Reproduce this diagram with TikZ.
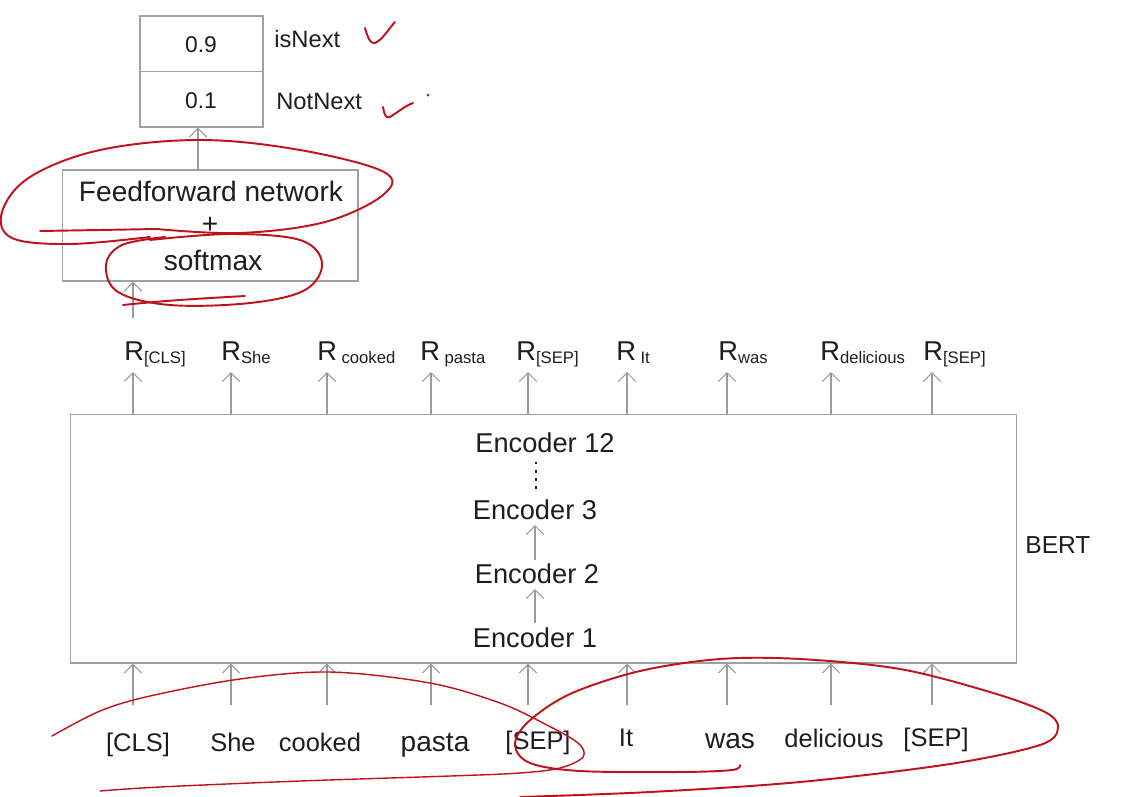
\documentclass[tikz,border=0pt]{standalone}
\usepackage{fontspec}
\setmainfont{Liberation Sans}
\usetikzlibrary{arrows.meta}
\definecolor{boxgray}{RGB}{160,160,160}
\definecolor{arrgray}{RGB}{155,155,155}
\definecolor{textblack}{RGB}{30,30,30}
\definecolor{annred}{RGB}{192,18,24}
\newcommand{\fs}[1]{\fontsize{#1}{#1}\selectfont}
\tikzset{
  box/.style={draw=boxgray, line width=0.6pt, inner sep=0pt},
  arr/.style={draw=arrgray, line width=0.6pt, -{Straight Barb[length=5pt,width=10pt]}},
  ann/.style={draw=annred, line width=1.1pt, line cap=round, line join=round},
  txt/.style={text=textblack, inner sep=0pt, anchor=base},
  rlab/.style={txt, anchor=base west, font=\fs{15.5pt}},
  tok/.style={txt, font=\fs{14.5pt}},
  enc/.style={txt, font=\fs{15.5pt}},
}
\begin{document}
\begin{tikzpicture}[x=0.02cm, y=-0.02cm]
\useasboundingbox (0,0) rectangle (1136,796);
\fill[white] (0,0) rectangle (1136,796);

% output box
\node[box, minimum width=2.46cm, minimum height=2.22cm] (out) at (201.5,71.5) {};
\draw[box] (out.west) -- (out.east);
\node[txt, font=\fs{13pt}] (p9) at (201,52) {0.9};
\node[txt, font=\fs{13pt}] (p1) at (201,108) {0.1};
\node[txt, anchor=base west, font=\fs{13.5pt}] (isn) at (274,47) {isNext};
\node[txt, anchor=base west, font=\fs{13.5pt}] (notn) at (276,109) {NotNext};

% feedforward box
\node[box, minimum width=5.92cm, minimum height=2.22cm] (ff) at (210,225.5) {};
\node[txt, font=\fs{16pt}] (ff1) at (211,201) {Feedforward network};
\node[txt, font=\fs{16pt}] (ff2) at (210,233) {+};
\node[txt, font=\fs{16pt}] (ff3) at (213,270) {softmax};
\draw[arr] (ff.north -| 198,0) -- (out.south -| 198,0);
\coordinate (ffin) at (133,318);
\draw[arr] (ffin) -- (ff.south -| ffin);

% BERT box
\node[box, minimum width=18.94cm, minimum height=4.98cm] (bert) at (543.5,538.5) {};
\node[txt, anchor=base west, font=\fs{14pt}] (bertl) at (1025,553) {BERT};
\node[enc] (e12) at (545,452) {Encoder 12};
\node[enc] (e3) at (535,519) {Encoder 3};
\node[enc] (e2) at (537,583) {Encoder 2};
\node[enc] (e1) at (535,647) {Encoder 1};
\draw[textblack, line width=1.6pt, dash pattern=on 1.4pt off 3.2pt] (536,462) -- (536,494);
\draw[arr] (535,623) -- (535,589);
\draw[arr] (535,560) -- (535,525);

% R labels
\node[rlab] (r1) at (124,360) {R\textsubscript{\fs{9.5pt}[CLS]}};
\node[rlab] (r2) at (221,360) {R\textsubscript{\fs{9.5pt}She}};
\node[rlab] (r3) at (317,360) {R\,\textsubscript{\fs{9.5pt}cooked}};
\node[rlab] (r4) at (420,360) {R\,\textsubscript{\fs{9.5pt}pasta}};
\node[rlab] (r5) at (516,360) {R\textsubscript{\fs{9.5pt}[SEP]}};
\node[rlab] (r6) at (616,360) {R\,\textsubscript{\fs{9.5pt}It}};
\node[rlab] (r7) at (718,360) {R\textsubscript{\fs{9.5pt}was}};
\node[rlab] (r8) at (820,360) {R\textsubscript{\fs{9.5pt}delicious}};
\node[rlab] (r9) at (923,360) {R\textsubscript{\fs{9.5pt}[SEP]}};
\foreach \x [count=\i] in {133,231,327,431,528,627,727,831,932}{
  \coordinate (rt\i) at (\x,372);
  \draw[arr] (bert.north -| rt\i) -- (rt\i);
}

% tokens
\node[tok] (t1) at (138,751) {[CLS]};
\node[tok] (t2) at (233,751) {She};
\node[tok] (t3) at (320,751) {cooked};
\node[tok, font=\fs{16pt}] (t4) at (435,751) {pasta};
\node[tok] (t5) at (538,749) {[SEP]};
\node[tok] (t6) at (626,746) {It};
\node[tok, font=\fs{16pt}] (t7) at (730,748) {was};
\node[tok] (t8) at (834,747) {delicious};
\node[tok] (t9) at (936,746) {[SEP]};
\foreach \x [count=\i] in {133,231,327,431,528,627,727,831,932}{
  \coordinate (bt\i) at (\x,705);
  \draw[arr] (bt\i) -- (bert.south -| bt\i);
}

% red annotations
\draw[ann] (40,231) -- (157,229);
\draw[ann] plot[smooth, tension=0.6] coordinates {(157,229) (240,233) (325,222) (383,195) (384,172) (300,150) (200,140) (100,150) (30,177) (2,212) (12,238) (70,244) (150,237)};
\draw[ann] plot[smooth, tension=0.6] coordinates {(150,240) (230,234) (300,240) (322,263) (305,290) (250,303) (170,305) (118,292) (106,265) (122,245) (165,237)};
\draw[ann] (123,305) .. controls (170,300) and (210,298) .. (245,296);
\draw[ann, line width=0.8pt] plot[smooth, tension=0.55] coordinates {(52,736) (100,711) (150,696) (240,679) (330,672) (430,683) (500,703) (545,724) (578,743) (583,757) (560,768) (520,773) (450,776) (300,781) (160,787) (100,791)};
\draw[ann] plot[smooth, tension=0.55] coordinates {(740,765) (732,770) (680,772) (580,771) (530,763) (515,745) (528,722) (570,694) (640,671) (720,659) (800,659) (900,669) (990,692) (1045,712) (1058,728) (1040,745) (950,764) (800,782) (650,792) (520,797)};
\draw[ann] (365,28) .. controls (368,38) and (370,44) .. (375,43) .. controls (382,40) and (388,30) .. (395,22);
\draw[ann] (383,107) .. controls (384,114) and (386,119) .. (390,117) .. controls (398,112) and (405,106) .. (413,103);
\fill[annred] (428,95) circle (1.5);
\end{tikzpicture}
\end{document}
